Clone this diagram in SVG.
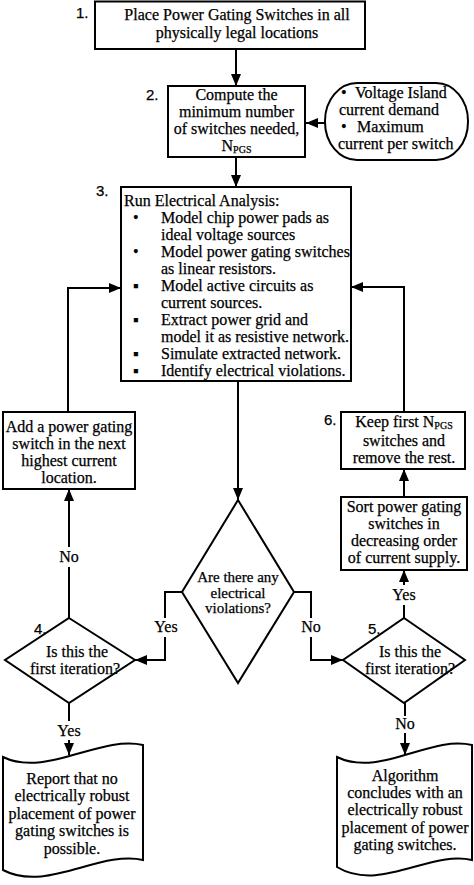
<svg xmlns="http://www.w3.org/2000/svg" width="474" height="885" viewBox="0 0 474 885">
<defs>
<marker id="ah" markerUnits="userSpaceOnUse" markerWidth="13" markerHeight="11" refX="12" refY="5" orient="auto">
<path d="M0,0 L12,5 L0,10 z" fill="#000"/>
</marker>
<style>
.box{fill:#fff;stroke:#000;stroke-width:2}
.ln{fill:none;stroke:#000;stroke-width:2}
.ar{fill:none;stroke:#000;stroke-width:2;marker-end:url(#ah)}
text{font-family:"Liberation Serif","Times New Roman",serif;font-size:16px;fill:#000;stroke:#000;stroke-width:0.25}
.c{text-anchor:middle}
.sm{font-size:15px}
.num{font-family:"Liberation Sans",Arial,sans-serif;font-size:15px}
.sub{font-size:10px}
</style>
</defs>
<rect width="474" height="885" fill="#fff"/>

<g id="connectors">
<path class="ar" d="M236,49 V86"/>
<path class="ar" d="M325,123 H306"/>
<path class="ar" d="M236,157 V187"/>
<path class="ar" d="M68,412 V288 H121"/>
<path class="ar" d="M404,412 V287 H351"/>
<path class="ar" d="M238,381 V500"/>
<path class="ln" d="M69,618 V567"/>
<path class="ar" d="M69,547 V489"/>
<path class="ln" d="M182,592 H165 V618"/>
<path class="ar" d="M165,637 V660 H135"/>
<path class="ln" d="M294,592 H311 V618"/>
<path class="ar" d="M311,637 V660 H343"/>
<path class="ln" d="M404,618 V605"/>
<path class="ar" d="M404,585 V570"/>
<path class="ar" d="M404,497 V469"/>
<path class="ln" d="M69,703 V721"/>
<path class="ar" d="M69,740 V755"/>
<path class="ln" d="M405,703 V716"/>
<path class="ar" d="M405,733 V755"/>
<text class="c" x="69" y="562">No</text>
<text class="c" x="166" y="632">Yes</text>
<text class="c" x="311" y="632">No</text>
<text class="c" x="404" y="600">Yes</text>
<text class="c" x="69" y="736">Yes</text>
<text class="c" x="405" y="729">No</text>
</g>

<g id="n1">
<rect class="box" x="95" y="1.5" width="270" height="47.5"/>
<text class="num" x="76" y="18">1.</text>
<text class="c" x="237" y="20">Place Power Gating Switches in all</text>
<text class="c" x="237" y="38">physically legal locations</text>
</g>

<g id="n2">
<rect class="box" x="168" y="86" width="137" height="71"/>
<text class="num" x="146" y="100">2.</text>
<text class="c" x="236.5" y="100">Compute the</text>
<text class="c" x="236.5" y="117">minimum number</text>
<text class="c" x="236.5" y="134">of switches needed,</text>
<text class="c" x="236.5" y="151">N<tspan class="sub" dy="2">PGS</tspan></text>
</g>

<g id="input">
<rect class="box" x="325" y="83" width="143" height="77" rx="32" ry="38"/>
<text x="341" y="98">•</text>
<text x="355" y="98">Voltage Island</text>
<text x="339" y="115">current demand</text>
<text x="341" y="132">•</text>
<text x="357" y="132">Maximum</text>
<text x="338" y="149">current per switch</text>
</g>

<g id="n3">
<rect class="box" x="121" y="187" width="230" height="194"/>
<text class="num" x="96" y="196">3.</text>
<text x="124" y="206">Run Electrical Analysis:</text>
<text x="133" y="223">•</text>
<text x="161" y="223">Model chip power pads as</text>
<text x="161" y="240">ideal voltage sources</text>
<text x="133" y="257">•</text>
<text x="161" y="257">Model power gating switches</text>
<text x="161" y="274">as linear resistors.</text>
<text x="133" y="291">▪</text>
<text x="161" y="291">Model active circuits as</text>
<text x="161" y="308">current sources.</text>
<text x="133" y="325">▪</text>
<text x="161" y="325">Extract power grid and</text>
<text x="161" y="342">model it as resistive network.</text>
<text x="133" y="359">▪</text>
<text x="161" y="359">Simulate extracted network.</text>
<text x="133" y="376">▪</text>
<text x="161" y="376">Identify electrical violations.</text>
</g>

<g id="add">
<rect class="box" x="3" y="412" width="132" height="77"/>
<text class="c" x="69" y="432">Add a power gating</text>
<text class="c" x="69" y="449">switch in the next</text>
<text class="c" x="69" y="466">highest current</text>
<text class="c" x="69" y="483">location.</text>
</g>

<g id="d0">
<path class="box" d="M238,500 L294,592 L238,683 L182,592 Z"/>
<text class="c sm" x="238" y="582">Are there any</text>
<text class="c sm" x="238" y="597.5">electrical</text>
<text class="c sm" x="238" y="613">violations?</text>
</g>

<g id="d4">
<path class="box" d="M69,618 L135,660 L69,703 L5,660 Z"/>
<text class="num" x="34" y="634">4.</text>
<text class="c" x="77" y="657">Is this the</text>
<text class="c" x="75" y="674">first iteration?</text>
</g>

<g id="d5">
<path class="box" d="M404,618 L465,660 L404,703 L343,660 Z"/>
<text class="num" x="368" y="634">5.</text>
<text class="c" x="410" y="657">Is this the</text>
<text class="c" x="410" y="674">first iteration?</text>
</g>

<g id="sort">
<rect class="box" x="341" y="497" width="126" height="73"/>
<text class="c" x="404" y="512">Sort power gating</text>
<text class="c" x="404" y="529">switches in</text>
<text class="c" x="404" y="546">decreasing order</text>
<text class="c" x="404" y="563">of current supply.</text>
</g>

<g id="n6">
<rect class="box" x="341" y="412" width="124" height="57"/>
<text class="num" x="324" y="425">6.</text>
<text class="c" x="404" y="427">Keep first N<tspan class="sub" dy="2">PGS</tspan></text>
<text class="c" x="404" y="446">switches and</text>
<text class="c" x="404" y="463">remove the rest.</text>
</g>

<g id="reportFail">
<path class="box" d="M3,757 C46,778 100,735 143,745 L143,860 C100,850 46,893 3,870 Z"/>
<text class="c" x="72" y="784">Report that no</text>
<text class="c" x="72" y="801">electrically robust</text>
<text class="c" x="72" y="819">placement of power</text>
<text class="c" x="72" y="836">gating switches is</text>
<text class="c" x="72" y="854">possible.</text>
</g>

<g id="reportOk">
<path class="box" d="M337,757 C380,778 430,735 472,745 L472,860 C430,850 380,893 337,867 Z"/>
<text class="c" x="405" y="781">Algorithm</text>
<text class="c" x="405" y="798">concludes with an</text>
<text class="c" x="405" y="815">electrically robust</text>
<text class="c" x="405" y="833">placement of power</text>
<text class="c" x="405" y="850">gating switches.</text>
</g>
</svg>
